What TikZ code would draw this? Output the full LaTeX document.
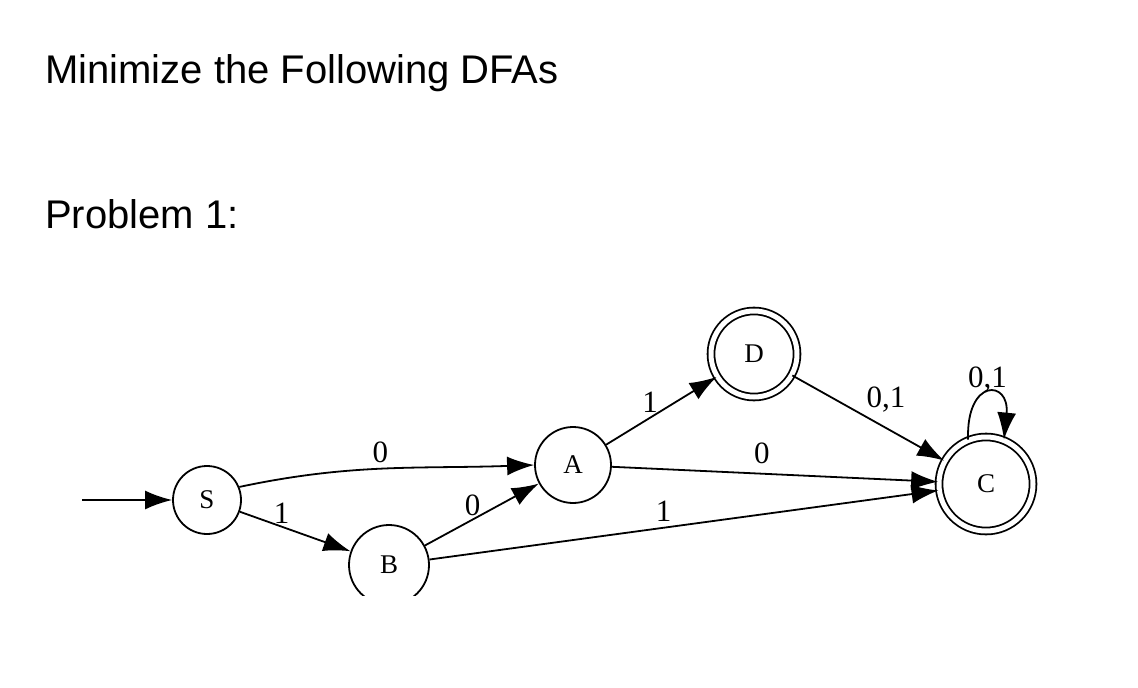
\documentclass[tikz,border=0pt]{standalone}
\usepackage{fontspec}
\setmainfont{Liberation Serif}
\newfontfamily\arialf{Liberation Sans}
\usetikzlibrary{arrows.meta}
\begin{document}
\begin{tikzpicture}[x=1pt,y=-1pt,
  st/.style={circle,draw,line width=1.8pt,inner sep=0pt,font=\fontsize{27}{29}\selectfont},
  acc/.style={st,double,double distance=5pt},
  lbl/.style={font=\fontsize{31}{33}\selectfont,inner sep=1pt},
  ar/.style={line width=1.8pt,-{Latex[length=27pt,width=19pt]}},
  ttl/.style={font=\arialf\fontsize{40}{44}\selectfont,anchor=base west,inner sep=0pt}]
\useasboundingbox[fill=white] (0,0) rectangle (1138,688);
\node[ttl] (t1) at (45,83) {Minimize the Following DFAs};
\node[ttl] (t2) at (45,228) {Problem 1:};
\node[st,minimum size=68pt] (S) at (207,500) {S};
\node[st,minimum size=80pt] (B) at (389,565) {B};
\node[st,minimum size=76pt] (A) at (573,465) {A};
\node[acc,minimum size=86pt] (D) at (754,354) {D};
\node[acc,minimum size=94pt] (C) at (986,484) {C};
\coordinate (start) at (82,500);
\draw[ar] (start) -- (S);
\draw[ar] (S.22) to[out=12,in=182] node[lbl,above,pos=0.48,yshift=4pt] {0} (A.west);
\draw[ar] (S) -- node[lbl,pos=0.35,above,xshift=3pt] {1} (B);
\draw[ar] (B) -- node[lbl,pos=0.45,above left,xshift=6pt] {0} (A);
\draw[ar] (A) -- node[lbl,pos=0.45,above left,xshift=4pt] {1} (D);
\draw[ar] (A) -- node[lbl,pos=0.46,above,yshift=8pt] {0} (C);
\draw[ar] (B) -- node[lbl,pos=0.46,above,yshift=4pt] {1} (C);
\draw[ar] (D) -- node[lbl,pos=0.45,above right,xshift=4pt] {0,1} (C);
\draw[ar] (C.112) .. controls +(-2,-62) and +(6,-60) .. node[lbl,above] {0,1} (C.68);
\fill[white] (300,596) rectangle (480,688);
\end{tikzpicture}
\end{document}
